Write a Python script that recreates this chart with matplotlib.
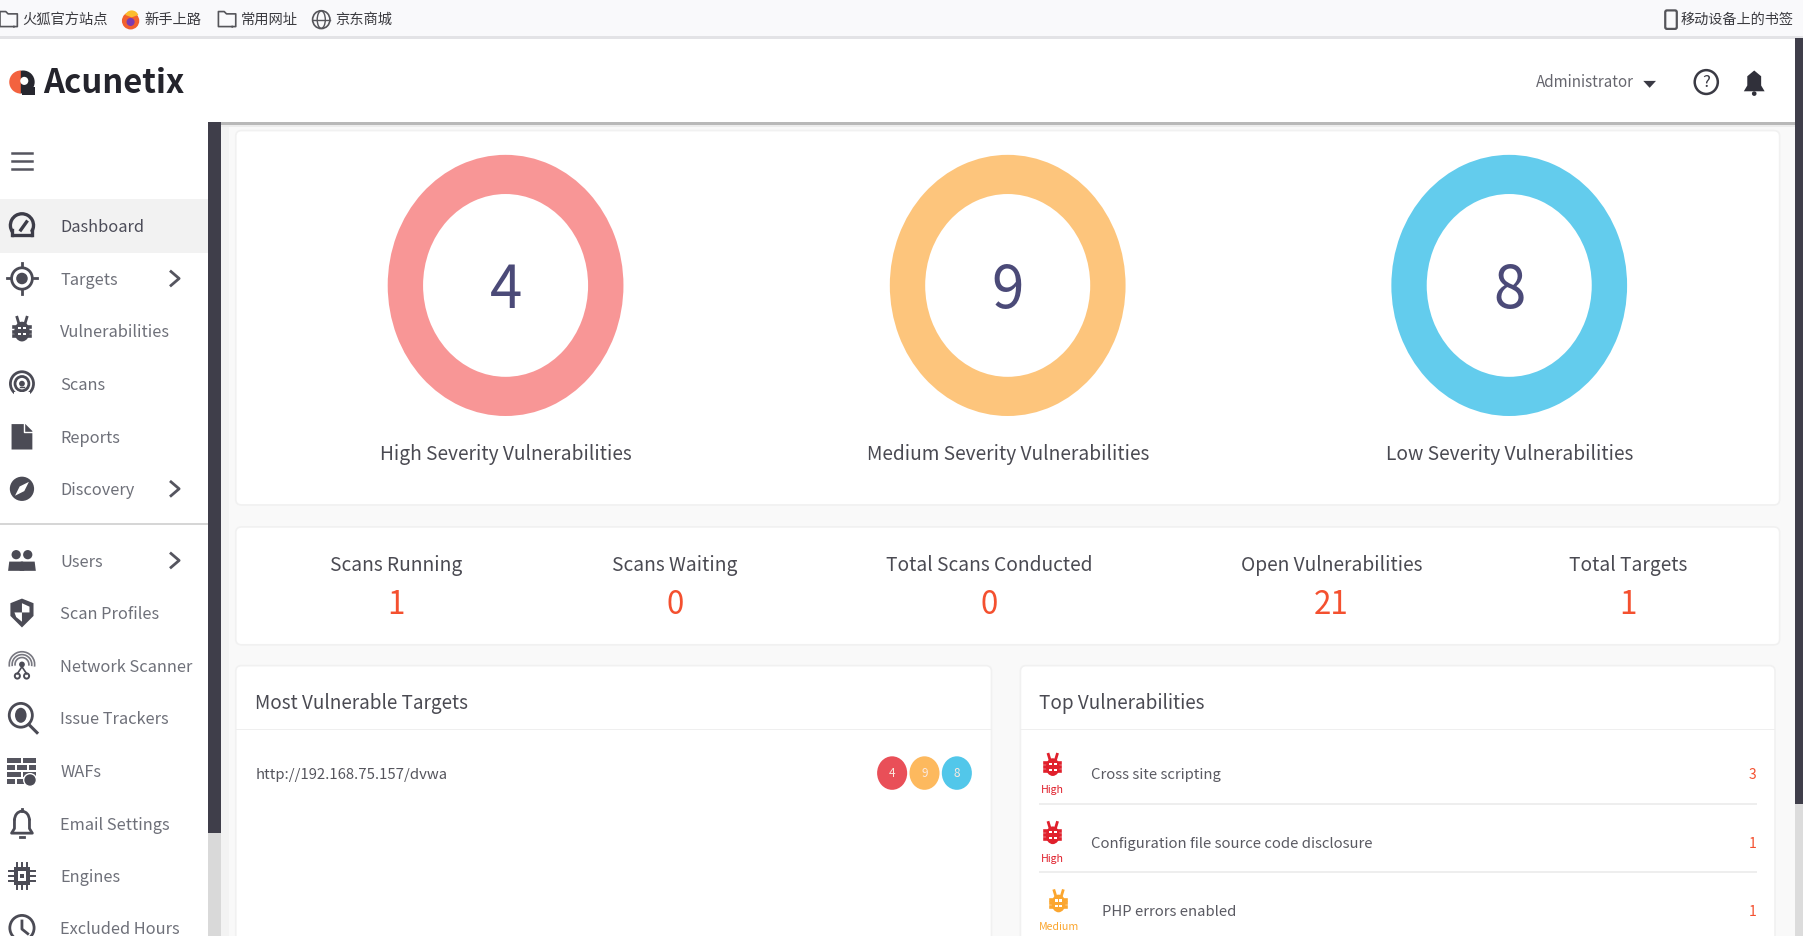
import matplotlib
matplotlib.use("Agg")
import matplotlib.pyplot as plt
import numpy as np
from matplotlib.patches import Rectangle, Circle, Ellipse, FancyBboxPatch, Polygon, Arc, Wedge

plt.rcParams['font.family'] = ['Noto Sans CJK SC', 'DejaVu Sans']

# chart values
severity_labels = ["High Severity Vulnerabilities", "Medium Severity Vulnerabilities", "Low Severity Vulnerabilities"]
severity_counts = [4, 9, 8]
stat_labels = ["Scans Running", "Scans Waiting", "Total Scans Conducted", "Open Vulnerabilities", "Total Targets"]
stat_values = [1, 0, 0, 21, 1]
bookmark_labels = ["火狐官方站点", "新手上路", "常用网址", "京东商城"]
menu_labels = ["Dashboard", "Targets", "Vulnerabilities", "Scans", "Reports", "Discovery",
               "Users", "Scan Profiles", "Network Scanner", "Issue Trackers", "WAFs",
               "Email Settings", "Engines", "Excluded Hours"]
vuln_names = ["Cross site scripting", "Configuration file source code disclosure", "PHP errors enabled"]
vuln_levels = ["High", "High", "Medium"]
vuln_counts = [3, 1, 1]
target_url = "http://192.168.75.157/dvwa"

# layout, in the coordinates of a 1568x810 view
W, H = 1568, 810
menu_y = [195, 241, 286, 332, 378, 423, 485, 530, 576, 621, 667, 713, 758, 803]
menu_arrow = ["Targets", "Discovery", "Users"]
donut_x = [437.5, 872, 1306]
stat_x = [343, 584, 856, 1152, 1409]
vuln_y = [669, 728, 787]
sev_colors = ["#f89696", "#fdc57c", "#63cced"]
badge_colors = ["#e94f58", "#fdb95e", "#52c7ea"]
level_colors = {"High": "#e0202c", "Medium": "#fba62f"}
ICON = "#4b4b55"
MENU = "#6e7079"
DARK = "#45454f"
RED = "#f4502f"
NAVY = "#4b4a78"

fig = plt.figure(figsize=(18.12, 9.36), dpi=100, facecolor="#f9f9f9")
ax = fig.add_axes([0, 0, 1, 1])
ax.set_xlim(0, W)
ax.set_ylim(H, 0)
ax.axis("off")


def rect(x0, y0, x1, y1, color, z=1):
    ax.add_patch(Rectangle((x0, y0), x1 - x0, y1 - y0, fc=color, ec="none", zorder=z))


def panel(x0, y0, x1, y1):
    ax.add_patch(FancyBboxPatch((x0 + 5, y0 + 5), x1 - x0 - 10, y1 - y0 - 10,
                                boxstyle="round,pad=5,rounding_size=5",
                                fc="white", ec="#f1f1f1", lw=1.2, zorder=2))


def label(x, y, s, size, color=DARK, ha="left", **kw):
    # the CJK font sits a little high when centred
    ax.text(x, y + 2, s, fontsize=size, color=color, ha=ha, va="center", zorder=6, **kw)


def bug(x, y, color, s=1.0, z=5):
    ax.add_patch(Ellipse((x, y + 1 * s), 14 * s, 18 * s, fc=color, ec="none", zorder=z))
    for dy in (-3, 1, 5):
        ax.plot([x - 7.5 * s, x + 7.5 * s], [y + dy * s, y + dy * s], color=color, lw=2.6, zorder=z)
    ax.plot([x - 4.5 * s, x - 3 * s], [y - 12 * s, y - 7 * s], color=color, lw=2, zorder=z)
    ax.plot([x + 4.5 * s, x + 3 * s], [y - 12 * s, y - 7 * s], color=color, lw=2, zorder=z)
    for dx in (-2.5, 2.5):
        for dy in (-2, 3.5):
            rect(x + dx * s - 1.3, y + dy * s - 0.9, x + dx * s + 1.3, y + dy * s + 0.9, "white", z + 1)


def ring(x, y, r, lw=2.0, color=ICON):
    ax.add_patch(Ellipse((x, y), 2 * r, 2 * r * 1.03, fc="none", ec=color, lw=lw, zorder=5))


def icon(name, x, y):
    if name == "Dashboard":
        ax.add_patch(Arc((x, y), 20, 20, theta1=145, theta2=35, ec="#3c3c48", lw=2.4, zorder=5))
        ax.plot([x - 8, x + 8], [y + 8, y + 8], color="#3c3c48", lw=2.4, zorder=5)
        ax.plot([x - 8.5, x - 8.5], [y + 4, y + 8], color="#3c3c48", lw=2.4, zorder=5)
        ax.plot([x + 8.5, x + 8.5], [y + 4, y + 8], color="#3c3c48", lw=2.4, zorder=5)
        ax.plot([x - 1, x + 4], [y + 4, y - 3], color="#3c3c48", lw=2.4, zorder=5)
    elif name == "Targets":
        ring(x, y, 9)
        ax.add_patch(Circle((x, y), 5, fc=ICON, ec="none", zorder=5))
        for dx, dy in ((0, -13), (0, 10), (-13, 0), (10, 0)):
            ax.plot([x + dx, x + dx + (3 if dx else 0)], [y + dy, y + dy + (3 if dy else 0)], color=ICON, lw=2, zorder=5)
    elif name == "Vulnerabilities":
        bug(x, y, ICON, 0.95)
    elif name == "Scans":
        ring(x, y, 10, 2)
        ring(x, y, 6, 2)
        ax.add_patch(Circle((x, y), 2.5, fc=ICON, ec="none", zorder=5))
        rect(x - 7, y + 7, x + 7, y + 12, "white", 5)
        ax.plot([x - 2, x + 2], [y + 3, y + 3], color=ICON, lw=1, zorder=6)
    elif name == "Reports":
        ax.add_patch(Polygon([(x - 9, y - 11), (x + 3, y - 11), (x + 9, y - 5), (x + 9, y + 11), (x - 9, y + 11)], fc=ICON, ec="none", zorder=5))
        ax.plot([x + 2, x + 2, x + 9], [y - 11, y - 4, y - 4], color="white", lw=1, zorder=6)
    elif name == "Discovery":
        ax.add_patch(Circle((x, y), 10.5, fc=ICON, ec="none", zorder=5))
        ax.add_patch(Polygon([(x + 6, y - 6), (x + 2, y + 2), (x - 6, y + 6), (x - 2, y - 2)], fc="white", ec="none", zorder=6))
    elif name == "Users":
        for dx in (-5, 5):
            ax.add_patch(Circle((x + dx, y - 5), 4, fc=ICON, ec="none", zorder=5))
            ax.add_patch(Polygon([(x + dx - 7, y + 9), (x + dx - 6, y + 1), (x + dx + 6, y + 1), (x + dx + 7, y + 9)], fc=ICON, ec="none", zorder=5))
    elif name == "Scan Profiles":
        ax.add_patch(Polygon([(x, y - 12), (x + 10, y - 8), (x + 10, y + 3), (x, y + 13), (x - 10, y + 3), (x - 10, y - 8)], fc=ICON, ec="none", zorder=5))
        ax.add_patch(Polygon([(x, y - 8), (x + 6.5, y - 5), (x + 6.5, y), (x, y)], fc="white", ec="none", zorder=6))
        ax.add_patch(Polygon([(x - 6.5, y), (x, y), (x, y + 8), (x - 5, y + 4)], fc="white", ec="none", zorder=6))
    elif name == "Network Scanner":
        for r in (11, 8.5, 6):
            ax.add_patch(Arc((x, y - 1), 2 * r, 2 * r, theta1=170, theta2=10, ec="#777780", lw=1.2, zorder=5))
        ax.add_patch(Circle((x, y - 1), 2.5, fc=ICON, ec="none", zorder=5))
        ring(x - 4, y + 9, 2.2, 1.4)
        ring(x + 4, y + 9, 2.2, 1.4)
        ax.plot([x, x - 4], [y + 1, y + 7], color=ICON, lw=1.2, zorder=5)
        ax.plot([x, x + 4], [y + 1, y + 7], color=ICON, lw=1.2, zorder=5)
    elif name == "Issue Trackers":
        ring(x - 1, y - 2, 10, 2)
        ax.add_patch(Ellipse((x - 1, y - 2), 10, 13, fc=ICON, ec="none", zorder=5))
        ax.plot([x + 6, x + 13], [y + 6, y + 13], color=ICON, lw=2.2, zorder=5)
    elif name == "WAFs":
        for row, dy in enumerate((-11, -5, 1, 7)):
            xs = [(-13, -1), (1, 12)] if row % 2 == 0 else [(-13, -6), (-4, 4), (6, 12)]
            for a, b in xs:
                rect(x + a, y + dy, x + b, y + dy + 4.5, "#55555f", 5)
        ax.add_patch(Circle((x + 7, y + 8), 5.5, fc=ICON, ec="white", lw=1, zorder=6))
    elif name == "Email Settings":
        ax.add_patch(Arc((x, y - 3), 13, 16, theta1=180, theta2=360, ec=ICON, lw=2, zorder=5))
        ax.plot([x - 6.5, x - 6.5, x - 9, x + 9, x + 6.5, x + 6.5], [y - 3, y + 4, y + 8, y + 8, y + 4, y - 3], color=ICON, lw=2, zorder=5)
        ax.plot([x, x], [y - 13, y - 11], color=ICON, lw=2, zorder=5)
        ax.plot([x - 2, x + 2], [y + 11, y + 11], color=ICON, lw=2, zorder=5)
    elif name == "Engines":
        rect(x - 7, y - 8, x + 7, y + 8, ICON, 5)
        rect(x - 3.5, y - 4, x + 3.5, y + 4, "white", 6)
        rect(x - 1.5, y - 2, x + 1.5, y + 2, ICON, 7)
        for d in (-4, 0, 4):
            ax.plot([x - 11, x + 11], [y + d, y + d], color=ICON, lw=1.4, zorder=4)
            ax.plot([x + d, x + d], [y - 11, y + 11], color=ICON, lw=1.4, zorder=4)
    elif name == "Excluded Hours":
        ring(x, y, 10.5, 2)
        ax.plot([x, x, x + 5], [y - 6, y + 1, y + 5], color=ICON, lw=2, zorder=5)


# page frame
rect(0, 0, W, 31, "#f9f9fb", 1)
rect(0, 31, W, 33.5, "#e3e3e6", 1)
rect(0, 33.5, 1560, 106, "white", 3)
rect(0, 106, 1553, 108, "#b8b8b8", 3)
rect(0, 108, 1553, 110, "#ececec", 3)
rect(0, 106, 180, H, "white", 3)
rect(0, 172, 180, 219, "#f2f2f2", 3)
rect(0, 453, 180, 454.5, "#d6d6d6", 4)
rect(180, 106, 191, H, "#d9d9d9", 4)
rect(180, 106, 191, 721, "#3f3e4a", 5)
rect(191, 110, 198, H, "#f3f3f3", 1)
rect(1553, 33, 1560, H, "#dcdcdc", 4)
rect(1553, 33, 1560, 696, "#3f3e4a", 5)
rect(1560, 0, W, H, "white", 6)

# bookmarks bar
book_x = [19, 125, 208, 290]
book_kind = ["folder", "fox", "folder", "globe"]
for s, bx, kind in zip(bookmark_labels, book_x, book_kind):
    label(bx, 15, s, 10.3, "#3b3b40")
    if kind == "folder":
        ax.plot(np.array([-7, -19, -19, -14, -12, -4, -4, -7]) + bx, [23, 23, 10, 10, 12, 12, 23, 23], color="#55555a", lw=1.2, zorder=5)
    elif kind == "fox":
        ax.add_patch(Ellipse((bx - 12, 18), 15, 15, fc="#f2602e", ec="none", zorder=5))
        ax.add_patch(Ellipse((bx - 12, 19), 7, 7, fc="#7b3bb0", ec="none", zorder=6))
        ax.add_patch(Wedge((bx - 11, 15), 6, 200, 340, fc="#fbbd2e", ec="none", zorder=6))
    else:
        ring(bx - 12, 17, 7.5, 1.2, "#55555a")
        ax.add_patch(Ellipse((bx - 12, 17), 7, 15, fc="none", ec="#55555a", lw=1, zorder=5))
        ax.plot([bx - 19.5, bx - 4.5], [17, 17], color="#55555a", lw=1, zorder=5)
ax.add_patch(FancyBboxPatch((1442, 10), 8, 14, boxstyle="round,pad=1,rounding_size=1.5", fc="none", ec="#55555a", lw=1.6, zorder=5))
label(1454, 15, "移动设备上的书签", 10.2, "#3b3b40")

# header
ax.add_patch(Circle((20, 71), 10, fc="#26262e", ec="none", zorder=4))
rect(19, 75, 30, 82, "#26262e", 4)
ax.add_patch(Wedge((18, 71), 10, 90, 270, fc="#f3623f", ec="none", zorder=5))
ax.add_patch(Circle((21, 70), 3.5, fc="white", ec="none", zorder=6))
label(37, 70, "Acunetix", 23.6, "#24242c", weight="bold")
label(1329, 69.5, "Administrator", 10.9, "#66666e")
ax.add_patch(Polygon([(1422, 70), (1433, 70), (1427.5, 76)], fc="#3a3a44", ec="none", zorder=5))
ring(1476.5, 71, 10, 1.8, "#3a3a44")
label(1476.5, 69, "?", 12, "#3a3a44", ha="center")
ax.add_patch(Polygon([(1509, 79), (1512, 74), (1512, 66), (1518, 61), (1524, 66), (1524, 74), (1527, 79)], fc="#30303a", ec="none", zorder=5))
ax.add_patch(Circle((1518, 81), 2, fc="#30303a", ec="none", zorder=5))

# side menu
for d in (132, 139, 146):
    ax.plot([10, 28], [d, d], color="#55555f", lw=1.8, zorder=5)
for s, y in zip(menu_labels, menu_y):
    icon(s, 19, y)
    label(52, y - 0.5, s, 11.8, "#4c4c58" if s == "Dashboard" else MENU)
    if s in menu_arrow:
        ax.plot([148, 155, 148], [y - 6, y, y + 6], color="#55555f", lw=2, zorder=5)

# panels
panel(204, 113, 1540, 437)
panel(204, 456, 1540, 558)
panel(204, 576, 858, 825)
panel(883, 576, 1536, 825)
rect(204, 630.5, 858, 632, "#efefef", 3)
rect(883, 630.5, 1536, 632, "#efefef", 3)

# severity rings
for name, n, cx, col in zip(severity_labels, severity_counts, donut_x, sev_colors):
    sub = fig.add_axes([(cx - 102) / W, 1 - (247 + 113) / H, 204 / W, 226 / H], zorder=3)
    sub.pie([n], colors=[col], radius=1, startangle=90, wedgeprops={"width": 0.3, "linewidth": 0})
    sub.set_aspect("auto")
    sub.set_xlim(-1, 1)
    sub.set_ylim(-1, 1)
    sub.text(0, -0.05, str(n), fontsize=42, color=NAVY, ha="center", va="center")
    label(cx, 391, name, 13.8, "#4a4a52", ha="center")

# counters
for name, n, x in zip(stat_labels, stat_values, stat_x):
    label(x, 487, name, 13.8, "#4a4a52", ha="center")
    label(x, 521.5, str(n), 22.5, RED, ha="center")

# lists
label(221, 607, "Most Vulnerable Targets", 13.6, "#4a4a52")
label(221, 669, target_url, 10.7, "#55555d")
for n, x, col in zip(severity_counts, [772, 800, 828], badge_colors):
    ax.add_patch(Ellipse((x, 669), 26, 29, fc=col, ec="none", zorder=5))
    label(x, 667, str(n), 8.5, "#fbe9e0", ha="center")

label(899, 607, "Top Vulnerabilities", 13.6, "#4a4a52")
vuln_text_x = [944, 944, 954]
vuln_icon_x = [911, 911, 916]
for name, level, n, y, tx, ix in zip(vuln_names, vuln_levels, vuln_counts, vuln_y, vuln_text_x, vuln_icon_x):
    bug(ix, y - 6, level_colors[level], 0.85)
    label(ix, y + 13, level, 7.6, level_colors[level], ha="center")
    label(tx, y, name, 10.7, "#5a5a62")
    label(1520, y, str(n), 10, RED, ha="right")
rect(899, 695, 1520, 696.5, "#eeeeee", 3)
rect(899, 754, 1520, 755.5, "#eeeeee", 3)

fig.savefig("out.png", dpi=100)
